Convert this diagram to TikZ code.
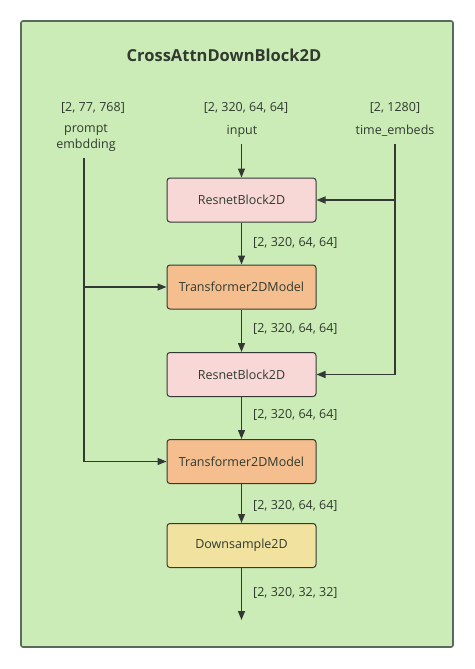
\documentclass[tikz,border=0pt]{standalone}
\usepackage{fontspec}
\setmainfont{Open Sans}
\usetikzlibrary{arrows.meta}
\definecolor{bggreen}{RGB}{204,236,183}
\definecolor{frame}{RGB}{88,108,92}
\definecolor{boxline}{RGB}{52,56,52}
\definecolor{txt}{RGB}{48,58,48}
\definecolor{resnet}{RGB}{248,216,214}
\definecolor{trans}{RGB}{245,190,142}
\definecolor{down}{RGB}{241,226,160}

\begin{document}
\begin{tikzpicture}
[x=1pt,y=-1pt,
 block/.style={draw=boxline,rounded corners=3pt,line width=1pt,minimum width=149pt,minimum height=44pt,text=txt,font=\fontsize{12.5}{15}\selectfont},
 lbl/.style={text=txt,font=\fontsize{12.5}{16}\selectfont,inner sep=1pt},
 wire/.style={draw=boxline,line width=1.2pt},
 >={Triangle[length=9pt,width=7pt]}]
\useasboundingbox (0,0) rectangle (474,669);
\draw[fill=bggreen,draw=frame,line width=1.6pt,rounded corners=2pt] (21,21) rectangle (453,647);

\node[text=txt,font=\bfseries\fontsize{16.5}{18}\selectfont] (title) at (224,55) {CrossAttnDownBlock2D};

% inputs
\node[lbl] (dprompt) at (93,108) {[2, 77, 768]};
\node[lbl,align=center] (prompt) at (86,138) {prompt\\embdding};
\coordinate (ptop) at (84,158);
\node[lbl] (dinput) at (246,108) {[2, 320, 64, 64]};
\node[lbl] (input) at (242,131) {input};
\node[lbl] (dtime) at (395,108) {[2, 1280]};
\node[lbl] (time) at (395,131) {time\_embeds};

% blocks
\node[block,fill=resnet] (res1) at (241.5,200) {ResnetBlock2D};
\node[block,fill=trans] (tr1) at (241.5,287) {Transformer2DModel};
\node[block,fill=resnet] (res2) at (241.5,374.5) {ResnetBlock2D};
\node[block,fill=trans] (tr2) at (241.5,461.5) {Transformer2DModel};
\node[block,fill=down] (ds) at (241.5,545.5) {Downsample2D};
\coordinate (out) at (241.5,620);

% shapes between blocks
\node[lbl,anchor=west] (d1) at (252,243) {[2, 320, 64, 64]};
\node[lbl,anchor=west] (d2) at (252,329) {[2, 320, 64, 64]};
\node[lbl,anchor=west] (d3) at (252,415) {[2, 320, 64, 64]};
\node[lbl,anchor=west] (d4) at (252,506) {[2, 320, 64, 64]};
\node[lbl,anchor=west] (d5) at (252,593) {[2, 320, 32, 32]};

\draw[wire,->,shorten <=6pt] (input.south -| res1) -- (res1);
\foreach \from/\to in {res1/tr1,tr1/res2,res2/tr2,tr2/ds,ds/out}
\draw[wire,->] (\from) -- (\to);

\draw[wire,->] (ptop) |- (tr2);
\draw[wire,->] (ptop |- tr1) -- (tr1);
\draw[wire,->,shorten <=6pt] (time.south) |- (res2);
\draw[wire,->] (time.south |- res1) -- (res1);
\end{tikzpicture}
\end{document}
